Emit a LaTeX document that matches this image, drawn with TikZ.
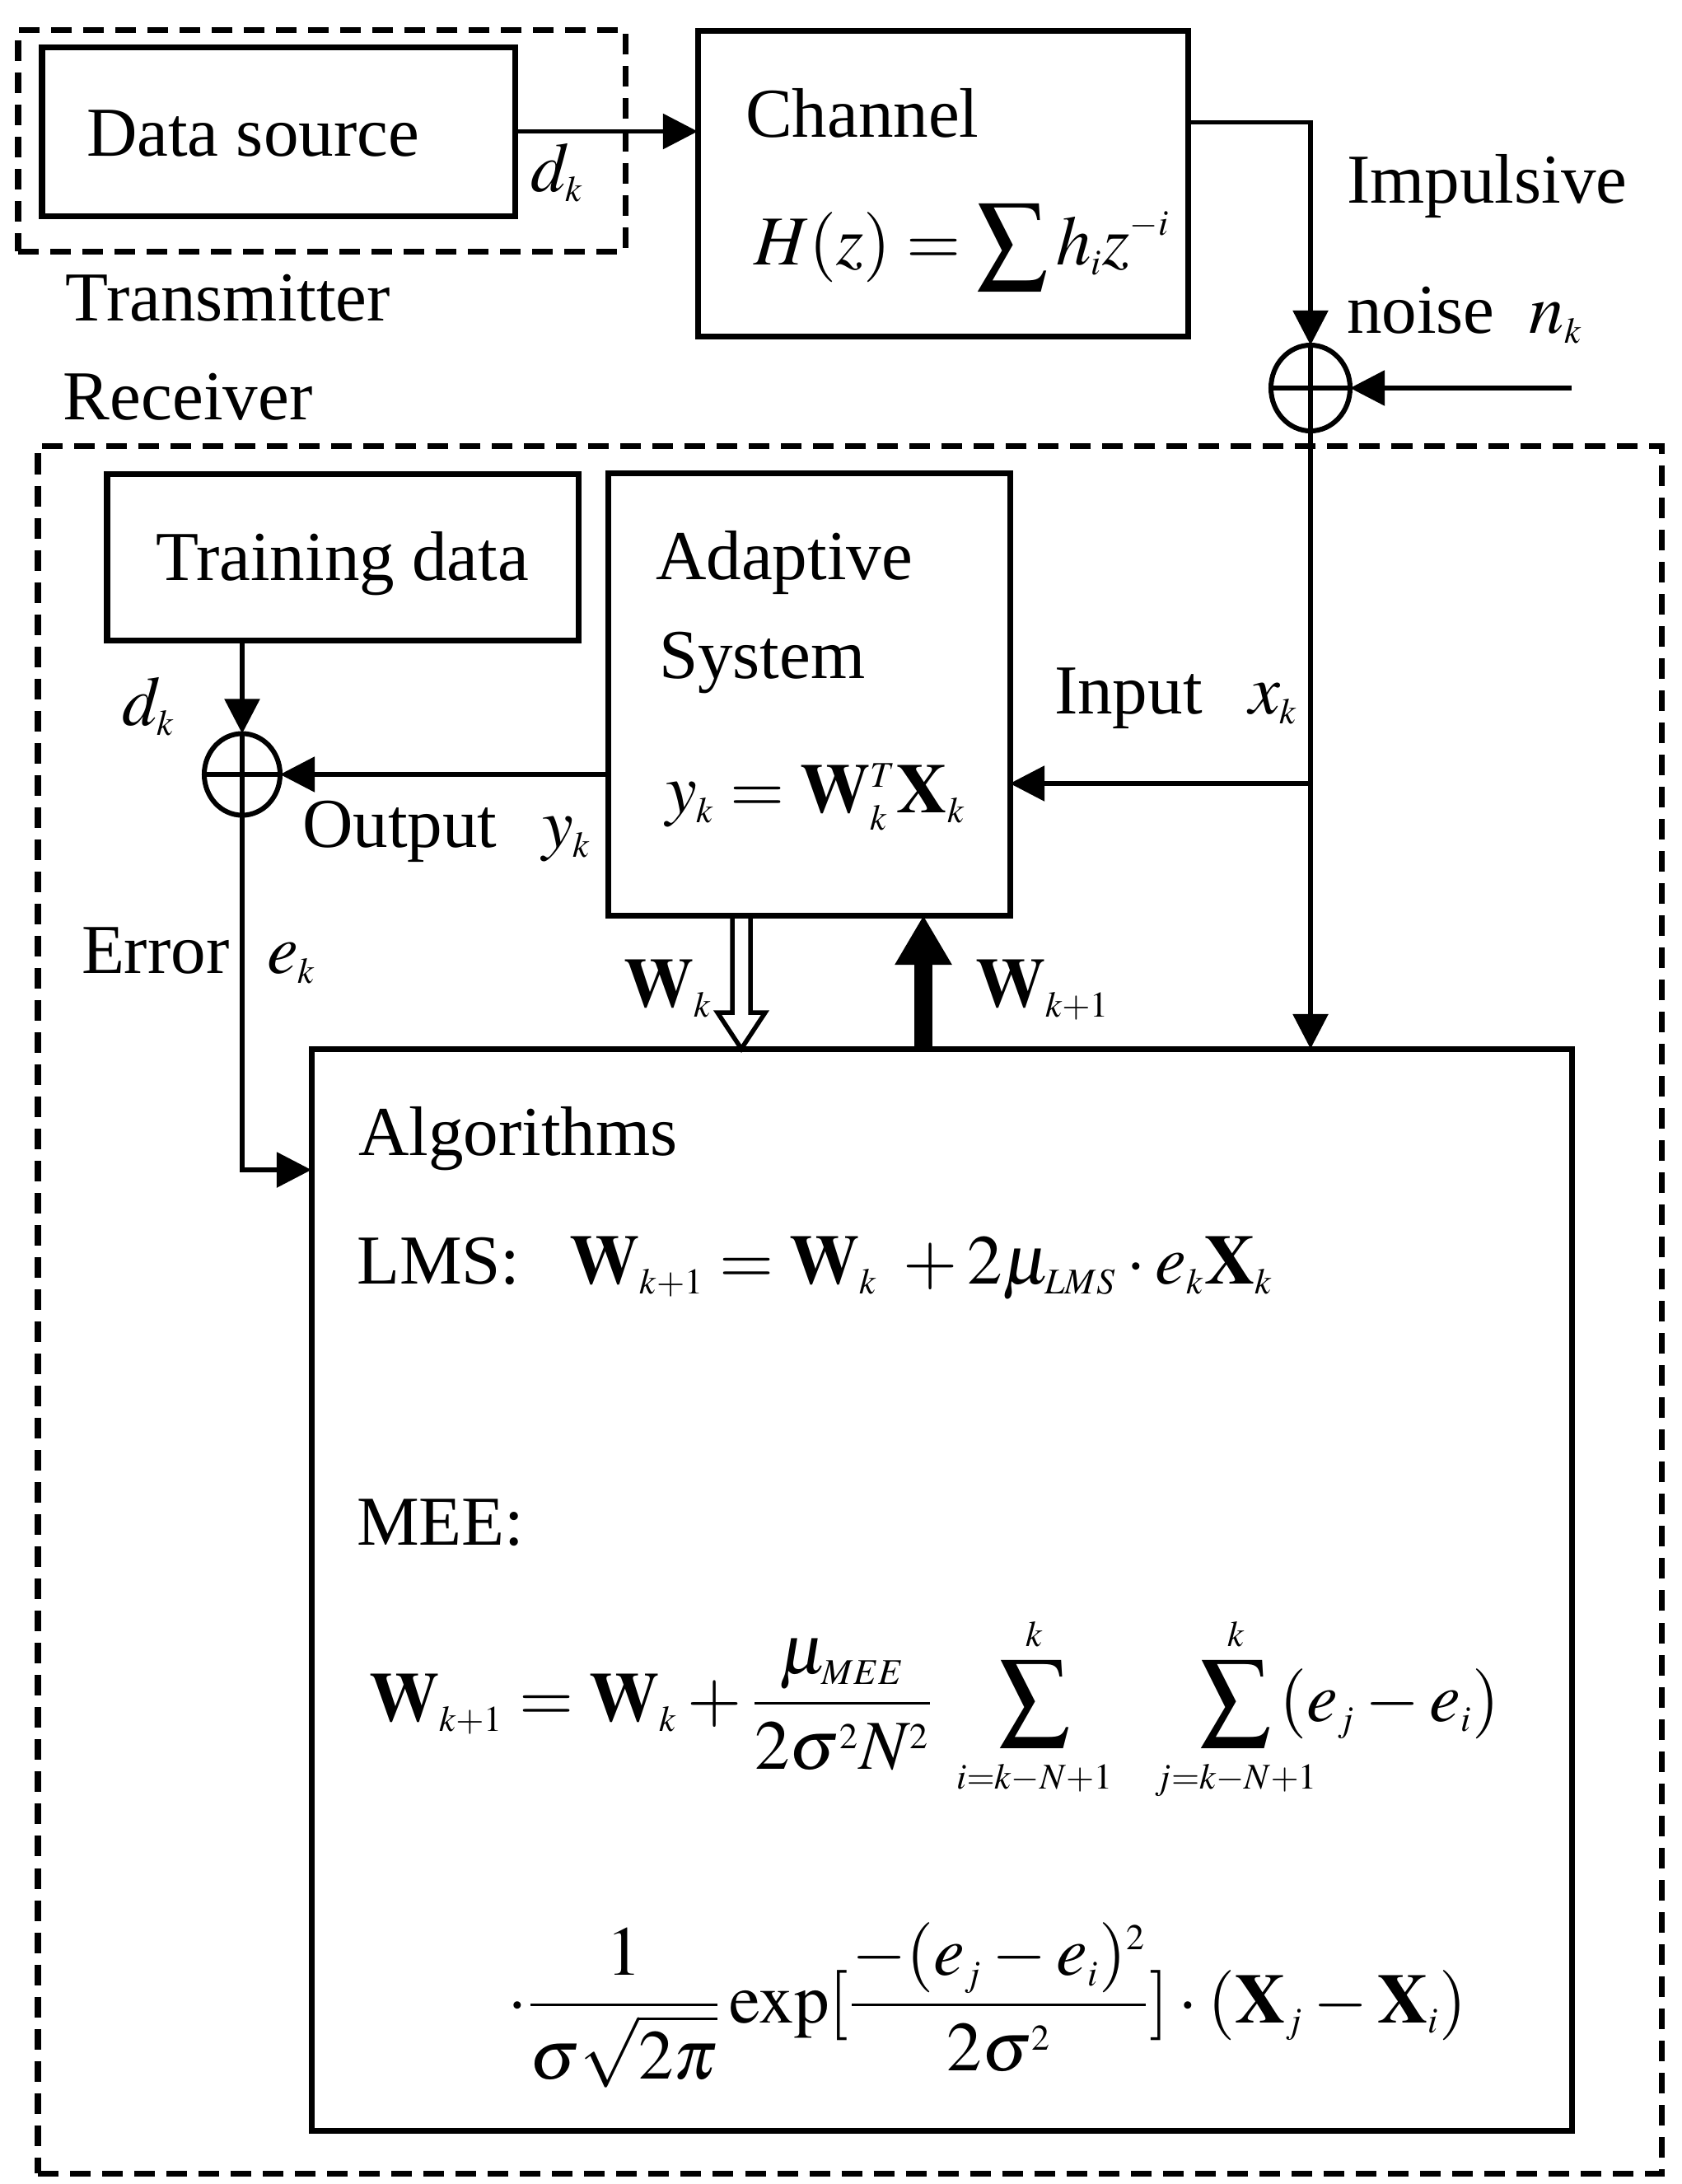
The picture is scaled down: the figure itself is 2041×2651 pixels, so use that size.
\documentclass[tikz,border=0pt]{standalone}
\usepackage{mathptmx}
\usepackage{mathtools}
\usepackage[no-math]{fontspec}
\setmainfont{Liberation Serif}
\DeclareMathSizes{24.2}{24.2}{12.5}{9.5}
\usetikzlibrary{arrows.meta,shapes.geometric,calc,fit}
\begin{document}
\begin{tikzpicture}[x=0.01cm, y=-0.01cm,
  every node/.style={inner sep=0pt, outer sep=0pt},
  txt/.style={anchor=base west, font=\fontsize{24.2}{29}\selectfont},
  box/.style={draw, line width=0.07cm, inner sep=0pt, fit={#1}},
  dashbox/.style={draw, line width=0.07cm, dash pattern=on 0.25cm off 0.14cm, inner sep=0pt, fit={#1}},
  sumnode/.style={draw, ellipse, line width=0.06cm, minimum width=0.96cm, minimum height=1.04cm},
  conn/.style={line width=0.055cm},
  arr/.style={conn, -{Triangle[length=0.42cm, width=0.42cm]}},
  fatarr/.style={line width=0.22cm, -{Triangle[length=0.6cm, width=0.65cm]}},
  hollowarr/.style={line width=0.055cm, line join=miter},
]
\path[use as bounding box] (0,0) rectangle (2041,2651);

% transmitter
\node (txb) [dashbox={(22,36) (759,305)}] {};
\node (ds) [box={(51,57) (625,262)}] {};
\node[txt] (dst) at (105,189) {Data source};
\node[txt] (dk1) at (644,232) {$d_k$};
\node[txt] (trt) at (80,389) {Transmitter};

% channel
\node (ch) [box={(847,37) (1442,408)}] {};
\node[txt] (cht) at (905,166) {Channel};
\node[txt] (hz) at (915,321) {$H(z)=\displaystyle\sum h_i z^{-i}$};

% noise
\node[txt] (imp) at (1635,246) {Impulsive};
\node[txt] (noi) at (1635,404) {noise\hspace{0.42cm}$n_k$};
\node (s1) [sumnode] at (1591,471) {};
\coordinate (nk) at (1908,471);

% receiver
\node[txt] (rct) at (77,509) {Receiver};
\node (rx) [dashbox={(46,541) (2017,2638)}] {};

\node (td) [box={(130,575) (702,777)}] {};
\node[txt] (tdt) at (189,704) {Training data};

\node (ad) [box={(738,574) (1226,1111)}] {};
\node[txt] (adt1) at (796,703) {Adaptive};
\node[txt] (adt2) at (800,823) {System};
\node[txt] (adf) at (808,986) {$y_k=\mathbf{W}_k^T\mathbf{X}_k$};

\node (s2) [sumnode, minimum width=0.92cm, minimum height=0.99cm] at (294,940) {};
\node[txt] (dk2) at (148,880) {$d_k$};
\node[txt] (outt) at (367,1028) {Output};
\node[txt] (yk) at (658,1028) {$y_k$};
\node[txt] (errt) at (99,1181) {Error};
\node[txt] (ek) at (324,1181) {$e_k$};
\node[txt] (inpt) at (1280,866) {Input};
\node[txt] (xk) at (1516,866) {$x_k$};
\node[txt] (wkl) at (757,1222) {$\mathbf{W}_k$};
\node[txt] (wk1l) at (1184,1222) {$\mathbf{W}_{k+1}$};

% algorithms
\node (al) [box={(378,1273) (1908,2586)}] {};
\node[txt] (alt) at (435,1402) {Algorithms};
\node[txt] (lms) at (433,1558) {LMS:\hspace{0.6cm}$\mathbf{W}_{k+1}=\mathbf{W}_k\;+2\mu_{LMS}\cdot e_k\mathbf{X}_k$};
\node[txt] (mee) at (433,1875) {MEE:};
\node[txt] (mee1) at (448,2089) {$\displaystyle \mathbf{W}_{k+1}=\mathbf{W}_k+\frac{\mu_{MEE}}{2\sigma^2N^2}\;\sum_{i=k-N+1}^{k}\ \ \smashoperator[r]{\sum_{j=k-N+1}^{k}}\,(e_j-e_i)$};
\node[txt] (mee2) at (616,2455) {$\displaystyle \cdot\frac{1}{\sigma\sqrt{2\pi}}\exp[\frac{-(e_j-e_i)^2}{2\sigma^2}]\cdot(\mathbf{X}_j-\mathbf{X}_i)$};

% sum junction crosses
\draw[conn] (s1.north) -- (s1.south) (s1.west) -- (s1.east);
\draw[conn] (s2.north) -- (s2.south) (s2.west) -- (s2.east);

% connectors
\coordinate (iny) at (0,951);
\coordinate (ey) at (0,1420);
\coordinate (wk0) at (900,0);
\coordinate (wk1) at (1121,0);

\draw[arr] (ds.east) -- (ds.east -| ch.west);
\draw[arr] ($(ch.north east)!0.3!(ch.south east)$) -| (s1.north);
\draw[arr] (nk) -- (s1.east);
\draw[arr] (s1.south) -- (s1.south |- al.north);
\draw[arr] (s1.south |- iny) -- (ad.east |- iny);
\draw[arr] (td.south -| s2.north) -- (s2.north);
\draw[arr] (ad.west |- s2.east) -- (s2.east);
\draw[arr] (s2.south) |- (al.west |- ey);
\draw[fatarr] (al.north -| wk1) -- (ad.south -| wk1);
\draw[hollowarr] ($(ad.south -| wk0)+(-11,0)$) -- ($(al.north -| wk0)+(-11,-44)$) -- ++(-18,0)
  -- (al.north -| wk0) -- ++(29,-44) -- ++(-18,0) -- ($(ad.south -| wk0)+(11,0)$);
\end{tikzpicture}
\end{document}
